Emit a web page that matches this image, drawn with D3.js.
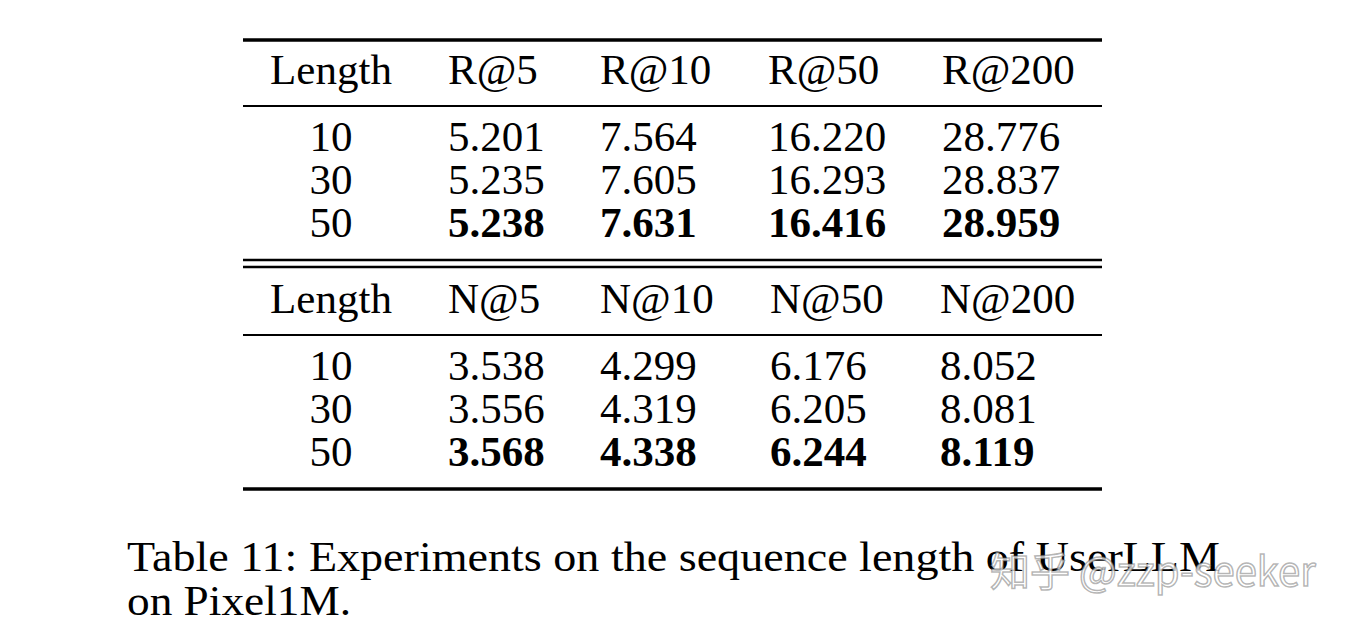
<!DOCTYPE html>
<html>
<head>
<meta charset="utf-8">
<script src="https://cdn.jsdelivr.net/npm/d3@7"></script>
<style>
  body { margin: 0; background: #fff; }
  text { font-family: "Liberation Serif", "DejaVu Serif", serif; fill: #000; }
</style>
</head>
<body>
<svg id="chart" width="1358" height="632"></svg>
<script>
const lengths = ['10', '30', '50']
const recallHeaders = ['R@5', 'R@10', 'R@50', 'R@200']
const recallValues = [
    ['5.201', '7.564', '16.220', '28.776'],
    ['5.235', '7.605', '16.293', '28.837'],
    ['5.238', '7.631', '16.416', '28.959']
]
const ndcgHeaders = ['N@5', 'N@10', 'N@50', 'N@200']
const ndcgValues = [
    ['3.538', '4.299', '6.176', '8.052'],
    ['3.556', '4.319', '6.205', '8.081'],
    ['3.568', '4.338', '6.244', '8.119']
]
const bestRow = 2
const captionLines = ['Table 11: Experiments on the sequence length of UserLLM', 'on Pixel1M.']
const captionWidths = [1093, 224]

const svg = d3.select('#chart')
const left = 243, right = 1102
const lengthX = 331
const colX = d3.scaleOrdinal().domain([0, 1, 2, 3]).range([448, 600, 768, 942])
const colX2 = d3.scaleOrdinal().domain([0, 1, 2, 3]).range([448, 600, 770, 940])
const rowY = d3.scaleLinear().domain([0, 1]).range([0, 43])
const fs = 43

function rule(y, w) {
    svg.append('line').attr('x1', left).attr('x2', right)
        .attr('y1', y).attr('y2', y)
        .attr('stroke', '#000').attr('stroke-width', w)
}

function block(headers, values, xs, headY, rowsY) {
    svg.append('text').attr('x', lengthX).attr('y', headY)
        .attr('text-anchor', 'middle').attr('font-size', fs).text('Length')
    svg.selectAll(null).data(headers).enter().append('text')
        .attr('x', (d, i) => xs(i)).attr('y', headY)
        .attr('font-size', fs).text(d => d)
    lengths.forEach((len, r) => {
        const y = rowsY + rowY(r)
        svg.append('text').attr('x', lengthX).attr('y', y)
            .attr('text-anchor', 'middle').attr('font-size', fs).text(len)
        svg.selectAll(null).data(values[r]).enter().append('text')
            .attr('x', (d, i) => xs(i)).attr('y', y)
            .attr('font-size', fs)
            .attr('font-weight', r === bestRow ? 'bold' : 'normal')
            .text(d => d)
    })
}

rule(40, 3.5)
block(recallHeaders, recallValues, colX, 84, 151)
rule(106, 2)
rule(260, 2.5)
rule(267, 2.5)
block(ndcgHeaders, ndcgValues, colX2, 313, 380)
rule(335, 2)
rule(489, 3.5)

svg.selectAll(null).data(captionLines).enter().append('text')
    .attr('x', 127).attr('y', (d, i) => 571 + i * 44)
    .attr('font-size', 42)
    .attr('textLength', (d, i) => captionWidths[i])
    .attr('lengthAdjust', 'spacingAndGlyphs')
    .text(d => d)

// watermark (overlays the caption, as in the reference)
svg.append('text').attr('x', 990).attr('y', 586)
    .style('font-family', '"Noto Sans CJK SC", "Noto Sans", sans-serif')
    .attr('font-size', 40)
    .style('fill', 'rgba(255,255,255,0.75)')
    .attr('stroke', 'rgba(90,90,90,0.45)').attr('stroke-width', 1.5)
    .text('知乎 @zzp-seeker')
</script>
</body>
</html>
